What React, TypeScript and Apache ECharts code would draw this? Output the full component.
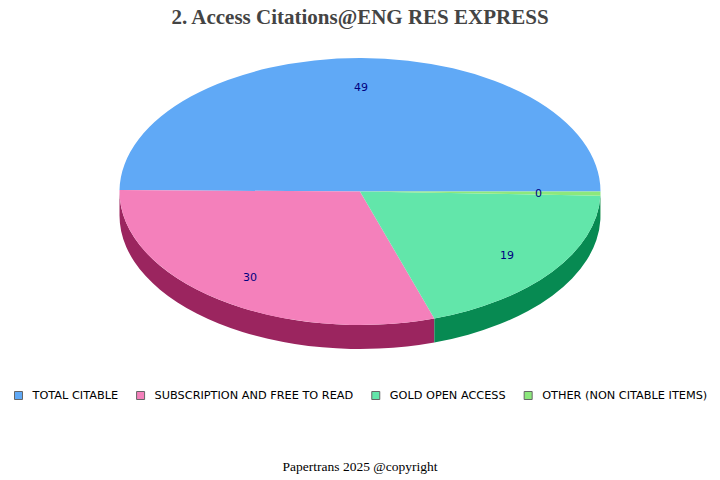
import React, { useEffect, useRef } from "react";
import * as echarts from "echarts";

const titleText = "2. Access Citations@ENG RES EXPRESS";
const footerText = "Papertrans 2025 @copyright";
const categories = ["TOTAL CITABLE", "SUBSCRIPTION AND FREE TO READ", "GOLD OPEN ACCESS", "OTHER (NON CITABLE ITEMS)"];
const values = [49.83, 30.17, 19.5, 0.5];
const topColors = ["#60a9f6", "#f480bb", "#62e6aa", "#8ce87c"];
const wallColors = ["#1f67b3", "#9b255f", "#078a52", "#4aa53a"];

const CX = 360;
const CY = 191.5;
const RX = 240.5;
const RY = 133.5;
const DEPTH = 24;
const END = 360;
const LABEL_R = 0.78;
const LABEL_NUDGE = [[0, 0], [1, 2], [-3, 1], [-9, 0]];

const total = values.reduce((a, b) => a + b, 0);
const rad = (d: number) => (d * Math.PI) / 180;
const px = (a: number) => CX + RX * Math.cos(rad(a));
const py = (a: number) => CY + RY * Math.sin(rad(a));

function sliceAngles(i: number): [number, number] {
  const before = values.slice(0, i).reduce((a, b) => a + b, 0);
  return [END - ((before + values[i]) / total) * 360, END - (before / total) * 360];
}

function topPath(a0: number, a1: number) {
  const large = a1 - a0 > 180 ? 1 : 0;
  return `M ${CX} ${CY} L ${px(a0)} ${py(a0)} A ${RX} ${RY} 0 ${large} 1 ${px(a1)} ${py(a1)} Z`;
}

function wallPath(a0: number, a1: number) {
  let d = "";
  for (const off of [0, 360]) {
    const lo = Math.max(a0, off);
    const hi = Math.min(a1, off + 180);
    if (hi > lo) {
      d += `M ${px(lo)} ${py(lo)} A ${RX} ${RY} 0 0 1 ${px(hi)} ${py(hi)} L ${px(hi)} ${py(hi) + DEPTH} A ${RX} ${RY} 0 0 0 ${px(lo)} ${py(lo) + DEPTH} Z `;
    }
  }
  return d;
}

function renderSlice(i: number) {
  return (_params: any, api: any) => {
    const v = api.value(0);
    const [a0, a1] = sliceAngles(i);
    const mid = (a0 + a1) / 2;
    const children: any[] = [];
    const wall = wallPath(a0, a1);
    if (wall) {
      children.push({ type: "path", shape: { pathData: wall }, style: { fill: wallColors[i] }, z2: 1 });
    }
    children.push({ type: "path", shape: { pathData: topPath(a0, a1) }, style: { fill: topColors[i] }, z2: 2 });
    children.push({
      type: "text",
      x: CX + LABEL_R * RX * Math.cos(rad(mid)) + LABEL_NUDGE[i][0],
      y: CY + LABEL_R * RY * Math.sin(rad(mid)) + LABEL_NUDGE[i][1],
      z2: 5,
      style: {
        text: String(Math.trunc(v)),
        fill: "#000080",
        font: "11px 'DejaVu Sans'",
        textAlign: "center",
        textVerticalAlign: "middle",
      },
    });
    return { type: "group", children };
  };
}

export default function App() {
  const ref = useRef<HTMLDivElement>(null);
  useEffect(() => {
    document.body.style.margin = "0";
    const chart = echarts.init(ref.current!, null, { renderer: "svg" });
    chart.setOption({
      animation: false,
      backgroundColor: "#ffffff",
      title: [
        {
          text: titleText,
          left: "center",
          top: 1,
          textStyle: { fontFamily: "'Liberation Serif'", fontSize: 21, fontWeight: "bold", color: "#444444" },
        },
        {
          text: footerText,
          left: "center",
          top: 454,
          textStyle: { fontFamily: "'Liberation Serif'", fontSize: 13.5, fontWeight: "normal", color: "#000000" },
        },
      ],
      legend: {
        left: 14,
        top: 390,
        width: 704,
        padding: 0,
        itemWidth: 8,
        itemHeight: 8,
        itemGap: 18,
        icon: "rect",
        itemStyle: { borderColor: "#666666", borderWidth: 1 },
        textStyle: { fontFamily: "'DejaVu Sans'", fontSize: 11.3, color: "#000000", padding: [0, 0, 0, 5] },
        data: categories,
      },
      series: categories.map((name, i) => ({
        type: "custom",
        name,
        coordinateSystem: "none",
        silent: true,
        itemStyle: { color: topColors[i] },
        data: [[values[i]]],
        renderItem: renderSlice(i),
      })),
    });
    return () => chart.dispose();
  }, []);
  return <div ref={ref} style={{ width: 720, height: 480 }} />;
}
